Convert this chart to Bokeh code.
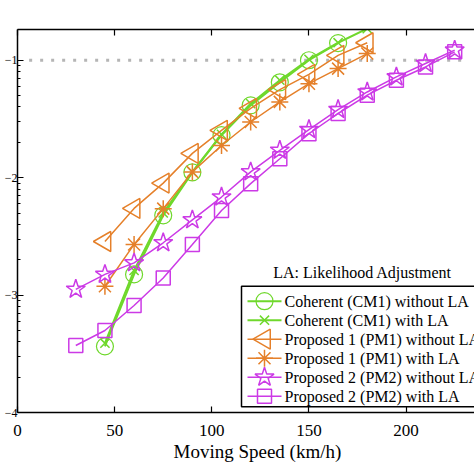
import math
from bokeh.plotting import figure
from bokeh.models import (Range1d, FixedTicker, LinearAxis, CustomJSTickFormatter,
                          Title, Label)
from bokeh.core.properties import value
from bokeh.embed import file_html
from bokeh.resources import INLINE

# ---- data: BER versus moving speed ----
speed_cm = [45, 60, 75, 90, 105, 120, 135, 150, 165, 180]
speed_pm2 = [30, 45, 60, 75, 90, 105, 120, 135, 150, 165, 180, 195, 210, 225]

cm1_without_la = [3.66e-4, 1.50e-3, 4.78e-3, 1.11e-2, 2.30e-2, 4.13e-2, 6.49e-2, 1.00e-1, 1.40e-1]
cm1_with_la = [3.89e-4, 1.62e-3, 5.01e-3, 1.12e-2, 2.34e-2, 4.27e-2, 6.76e-2, 1.02e-1, 1.41e-1, 1.86e-1]
pm1_without_la = [2.86e-3, 5.47e-3, 8.99e-3, 1.61e-2, 2.53e-2, 3.89e-2, 5.62e-2, 7.59e-2, 1.10e-1, 1.41e-1]
pm1_with_la = [1.19e-3, 2.70e-3, 5.45e-3, 1.12e-2, 1.88e-2, 2.98e-2, 4.42e-2, 6.32e-2, 8.49e-2, 1.14e-1]
pm2_without_la = [1.12e-3, 1.50e-3, 1.88e-3, 2.79e-3, 4.37e-3, 6.84e-3, 1.12e-2, 1.71e-2,
                  2.57e-2, 3.80e-2, 5.37e-2, 7.21e-2, 9.38e-2, 1.22e-1]
pm2_with_la = [3.72e-4, 4.99e-4, 8.15e-4, 1.40e-3, 2.70e-3, 5.26e-3, 8.89e-3, 1.45e-2,
               2.37e-2, 3.52e-2, 5.04e-2, 6.76e-2, 8.77e-2, 1.18e-1]

target_ber = 1e-1
x_ticks = [0, 50, 100, 150, 200]
y_decades = [-4, -3, -2, -1]

legend_title = "LA: Likelihood Adjustment"
labels = [
    "Coherent (CM1) without LA",
    "Coherent (CM1) with LA",
    "Proposed 1 (PM1) without LA",
    "Proposed 1 (PM1) with LA",
    "Proposed 2 (PM2) without LA",
    "Proposed 2 (PM2) with LA",
]

GREEN = "#6fd82c"
ORANGE = "#e5802a"
MAGENTA = "#cc3ae6"
SERIF = "Liberation Serif"

# ---- frame geometry ----
W, H = 474, 474
FRAME_L, FRAME_T, FRAME_B = 17, 29, 412
X_END = 235.2
Y_LO, Y_HI = -4.0, -0.738

p = figure(width=W, height=H, output_backend="svg", toolbar_location=None,
           x_range=Range1d(0, X_END), y_range=Range1d(10 ** Y_LO, 10 ** Y_HI),
           y_axis_type="log",
           min_border_left=FRAME_L, min_border_right=0,
           min_border_top=FRAME_T, min_border_bottom=H - FRAME_B)
p.outline_line_color = None
p.grid.visible = False
p.background_fill_color = "white"
p.border_fill_color = "white"

blank = CustomJSTickFormatter(code="return '';")


def style_axis(ax):
    ax.axis_line_width = 1.5
    ax.axis_line_color = "black"
    ax.major_tick_in = 6
    ax.major_tick_out = 0
    ax.minor_tick_in = 3
    ax.minor_tick_out = 0
    ax.major_tick_line_width = 1.2
    ax.minor_tick_line_width = 1.0
    ax.major_tick_line_color = "black"
    ax.minor_tick_line_color = "black"
    ax.major_label_text_font = SERIF
    ax.major_label_text_color = "black"


# bottom x axis
xa = p.xaxis[0]
xa.ticker = FixedTicker(ticks=x_ticks, minor_ticks=[])
style_axis(xa)
xa.major_label_text_font_size = "17px"
xa.major_label_standoff = 12

# left log y axis showing decade exponents
ya = p.yaxis[0]
minor = [k * 10.0 ** e for e in y_decades for k in range(2, 10)]
ya.ticker = FixedTicker(ticks=[10.0 ** e for e in y_decades], minor_ticks=minor)
ya.formatter = CustomJSTickFormatter(
    code="return '\u2212' + Math.round(-Math.log10(tick));")
style_axis(ya)
ya.major_label_text_font_size = "12px"
ya.major_label_standoff = 0

# top axis: ticks only
top = LinearAxis(ticker=FixedTicker(ticks=x_ticks, minor_ticks=[]), formatter=blank)
style_axis(top)
top.major_label_standoff = 0
p.add_layout(top, "above")

# x axis title
p.add_layout(Title(text="Moving Speed (km/h)", align="left", offset=156,
                   text_font=SERIF, text_font_size="19px", text_font_style="normal",
                   text_color="black", standoff=0), "below")

# target BER reference line
p.line([6, 232], [target_ber, target_ber], line_color="#b5b5b5", line_width=3,
       line_dash="3 8")

# ---- series ----
series = [
    (speed_cm[:len(cm1_without_la)], cm1_without_la, GREEN, 2.0,
     dict(marker="circle", size=17, fill_color=None, line_width=1.2)),
    (speed_cm, cm1_with_la, GREEN, 2.0,
     dict(marker="x", size=13, line_width=1.5)),
    (speed_cm, pm1_without_la, ORANGE, 1.5,
     dict(marker="triangle", size=20, angle=math.pi / 2, fill_color=None, line_width=1.5)),
    (speed_cm, pm1_with_la, ORANGE, 1.5,
     dict(marker="asterisk", size=17, line_width=1.5)),
    (speed_pm2, pm2_without_la, MAGENTA, 1.5,
     dict(marker="star", size=20, fill_color=None, line_width=1.5)),
    (speed_pm2, pm2_with_la, MAGENTA, 1.5,
     dict(marker="square", size=14, fill_color=None, line_width=1.5)),
]

for xs, ys, color, lw, mk in series:
    p.line(xs, ys, line_color=color, line_width=lw)
    p.scatter(xs, ys, line_color=color, **mk)

# ---- pixel-to-data helpers for legend placement ----
FRAME_W = W - FRAME_L


def px_x(px):
    return (px - FRAME_L) / FRAME_W * X_END


def px_y(py):
    return 10 ** (Y_LO + (FRAME_B - py) / (FRAME_B - FRAME_T) * (Y_HI - Y_LO))


# legend
p.quad(left=px_x(241), right=px_x(520), top=px_y(285.7), bottom=px_y(406.3),
       fill_color="white", line_color="black", line_width=1.5)

for i, (label, (xs, ys, color, lw, mk)) in enumerate(zip(labels, series)):
    ry = px_y(300.7 + 19 * i)
    p.line([px_x(247), px_x(281)], [ry, ry], line_color=color, line_width=lw)
    p.scatter([px_x(264)], [ry], line_color=color, **mk)
    p.text([px_x(284)], [ry], text=[label], text_font=value(SERIF),
           text_font_size="16px", text_baseline="middle", text_align="left",
           text_color="black")

p.add_layout(Label(x=px_x(362), y=px_y(272), text=legend_title, text_font=SERIF,
                   text_font_size="16px", text_align="center", text_baseline="middle",
                   text_color="black"))

open("out.html", "w").write(file_html(p, INLINE))
